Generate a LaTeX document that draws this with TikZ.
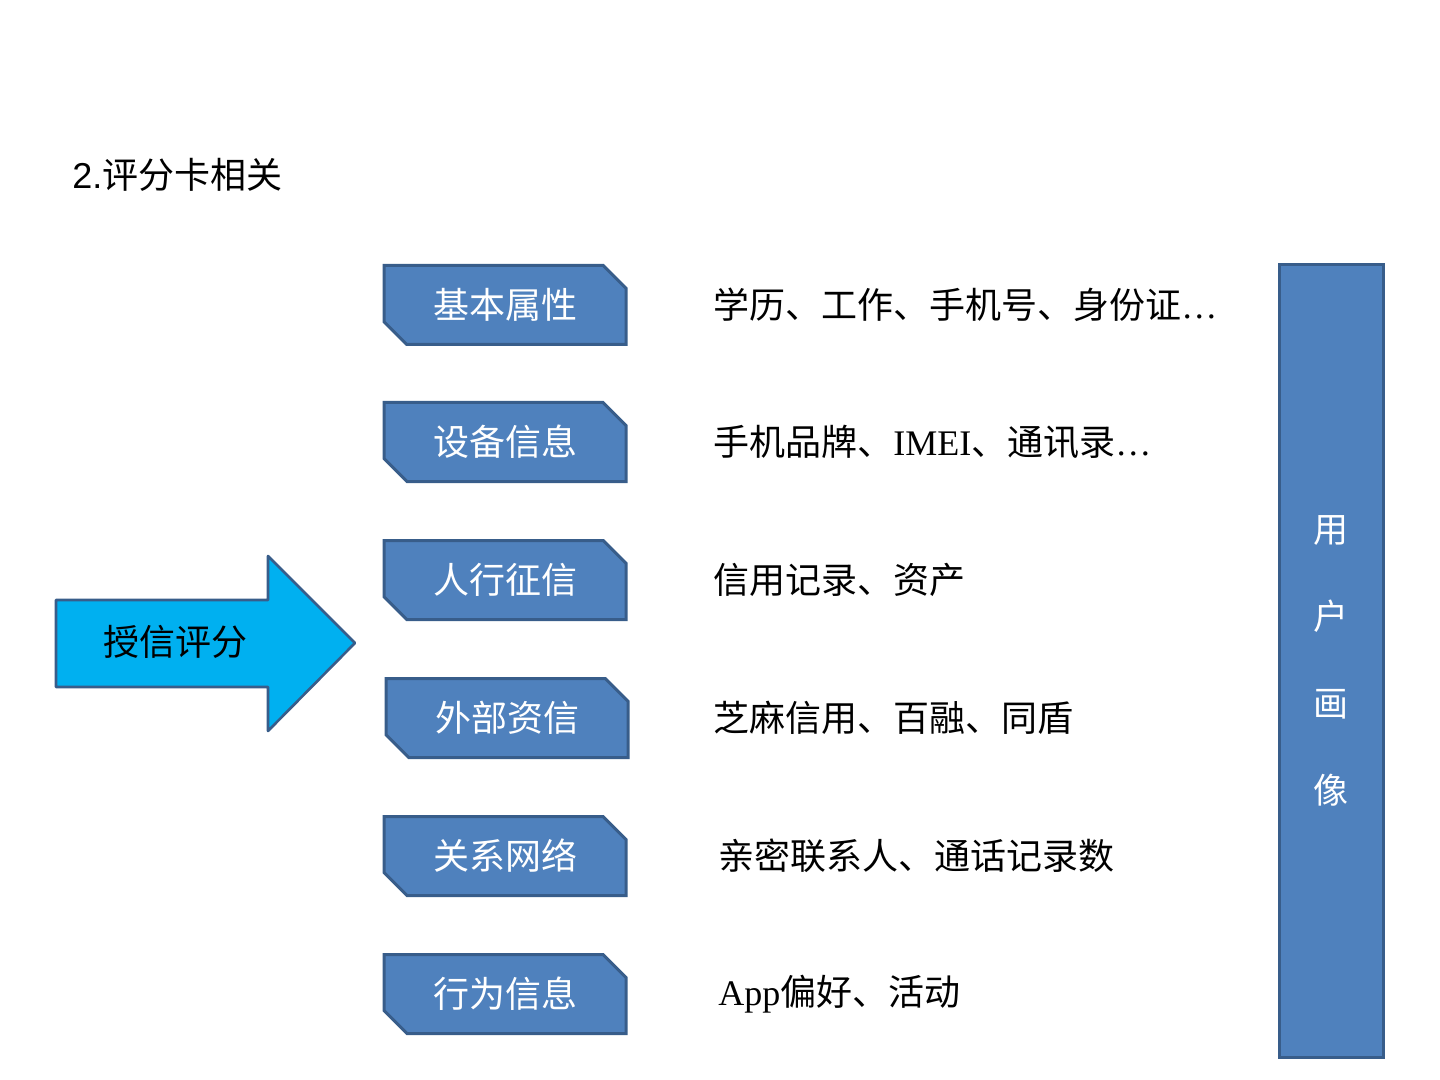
\documentclass[tikz,border=0pt]{standalone}
\usepackage{fontspec}
\setmainfont{Liberation Serif}
\newfontfamily\cjk{Noto Sans CJK SC}
\newfontfamily\arial{Liberation Sans}
\usetikzlibrary{%
  shapes.misc,% chamfered rectangle
  positioning,%
}
\definecolor{boxblue}{HTML}{4F81BD}
\definecolor{boxline}{HTML}{385D8A}
\definecolor{arrowcyan}{HTML}{00B0F0}
\tikzset{
  featbox/.style={chamfered rectangle,
    chamfered rectangle corners={north east,south west},
    chamfered rectangle xsep=9pt,
    minimum width=121pt, minimum height=39.5pt, inner sep=0pt,
    fill=boxblue, draw=boxline, line width=1.5pt,
    text=white, font=\cjk\fontsize{18}{20}\selectfont},
  feattext/.style={anchor=west, inner sep=0pt, font=\fontsize{18}{20}\selectfont},
}
\begin{document}
\begin{tikzpicture}[x=0.5pt,y=-0.5pt]
    \useasboundingbox (0,0) rectangle (1440,1080);
    % title
    \node[anchor=west, inner sep=0pt, font=\fontsize{18}{20}\selectfont] (title) at (72,175)
        {\arial 2.\cjk 评分卡相关};
    % big arrow
    \draw[fill=arrowcyan, draw=boxline, line width=1.3pt, line join=round]
        (56,600) -- (268,600) -- (268,556) -- (355,643) -- (268,731)
        -- (268,687) -- (56,687) -- cycle;
    \node[font=\cjk\fontsize{18}{20}\selectfont] (credit) at (175,642) {授信评分};
    % feature boxes
    \node[featbox] (basic)   at (505,305) {基本属性};
    \node[featbox] (device)  at (505,442) {设备信息};
    \node[featbox] (pboc)    at (505,580) {人行征信};
    \node[featbox] (extern)  at (507,718) {外部资信};
    \node[featbox] (network) at (505,856) {关系网络};
    \node[featbox] (behave)  at (505,994) {行为信息};
    % descriptions
    \node[feattext] (basicd)   at (713,305) {\cjk 学历、工作、手机号、身份证\rmfamily\ldots};
    \node[feattext] (deviced)  at (713,442) {{\cjk 手机品牌、}IMEI{\cjk 、通讯录}\ldots};
    \node[feattext] (pbocd)    at (713,580) {\cjk 信用记录、资产};
    \node[feattext] (externd)  at (713,718) {\cjk 芝麻信用、百融、同盾};
    \node[feattext] (networkd) at (718,856) {\cjk 亲密联系人、通话记录数};
    \node[feattext] (behaved)  at (718,994) {App{\cjk 偏好、活动}};
    % user profile bar
    \node[rectangle, minimum width=52pt, minimum height=396pt, inner sep=0pt,
          fill=boxblue, draw=boxline, line width=1.5pt, text=white, align=center,
          font=\cjk\fontsize{17.5}{43.5}\selectfont] (profile) at (1331,661)
        {用\\户\\画\\像};
\end{tikzpicture}
\end{document}
